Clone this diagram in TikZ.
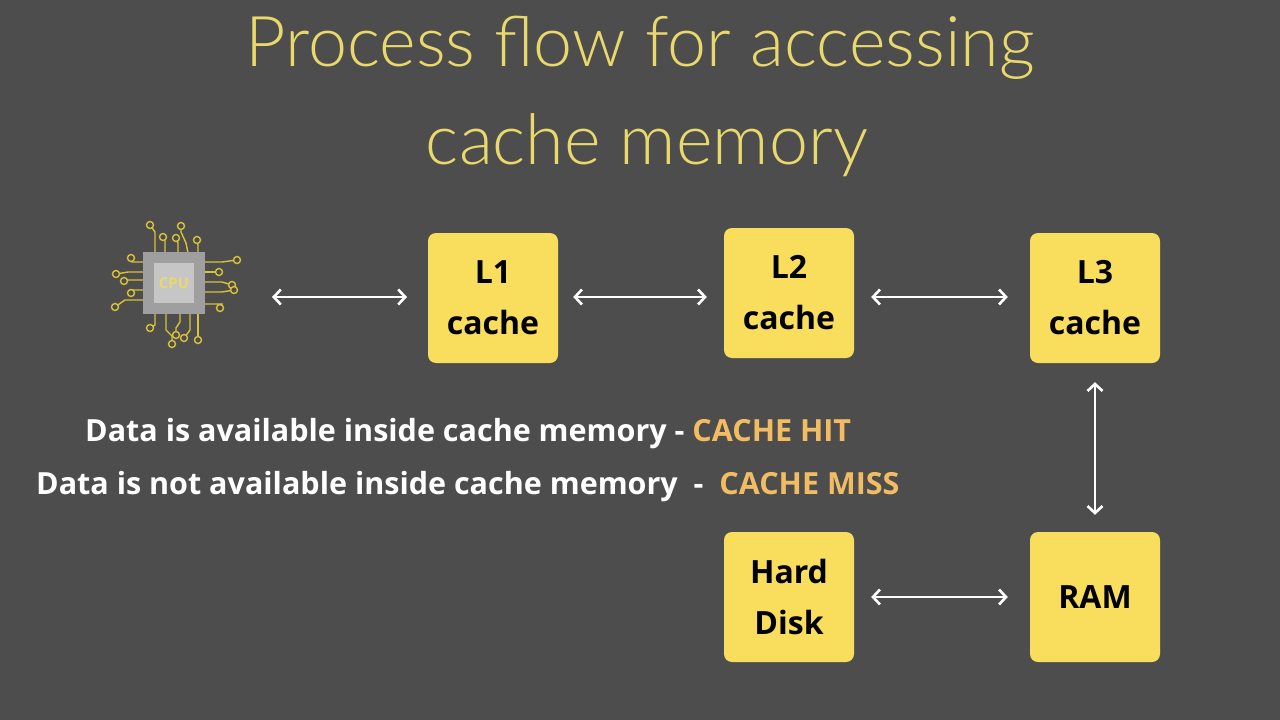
\documentclass[tikz,border=0pt]{standalone}
\usepackage{fontspec}
\setmainfont{Open Sans}
\newfontfamily\titlefont{Lato Light}
\usetikzlibrary{arrows.meta}
\definecolor{bg}{HTML}{4D4D4D}
\definecolor{boxy}{HTML}{F8DE5C}
\definecolor{ttl}{HTML}{E9D86C}
\definecolor{hit}{HTML}{F2BC62}
\definecolor{pinc}{HTML}{D9C23A}
\begin{document}
\begin{tikzpicture}[x=1pt,y=-1pt,
  box/.style={fill=boxy,rounded corners=8pt,minimum width=130pt,minimum height=130pt,inner sep=0pt,align=center,font=\fontsize{32}{51}\selectfont\bfseries,text=black},
  link/.style={white,line width=2.6pt,{Straight Barb[length=7pt,width=15pt]}-{Straight Barb[length=7pt,width=15pt]}},
  trace/.style={draw=pinc,line width=1.4pt},
  dot/.style={draw=pinc,line width=1.4pt,fill=bg}]
\fill[bg] (0,0) rectangle (1280,720);
\useasboundingbox (0,0) rectangle (1280,720);
\node[text=ttl,font=\titlefont\fontsize{70}{78}\selectfont] (t1) at (640,48) {Process flow for accessing};
\node[text=ttl,font=\titlefont\fontsize{70}{78}\selectfont] (t2) at (647,145) {cache memory};
% CPU
\draw[trace] (155,253)--(155,232)--(150,225);
\draw[trace] (165,253)--(165,238)--(163,237);
\draw[trace] (178,253)--(178,243)--(176,238);
\draw[trace] (188,253)--(186,243)--(181,232)--(181,226);
\draw[trace] (198,253)--(198,245)--(197,240);
\draw[trace] (155,313)--(155,325)--(150,328);
\draw[trace] (166,313)--(166,330)--(172,336)--(172,344);
\draw[trace] (180,313)--(180,322)--(176,328)--(176,335);
\draw[trace] (190,313)--(190,330)--(184,338);
\draw[trace] (198,313)--(198,340);
\draw[trace] (143,262)--(132,262)--(131,258);
\draw[trace] (143,272)--(128,272)--(116,274);
\draw[trace] (143,280)--(125,280)--(124,281);
\draw[trace] (143,290)--(130,290)--(131,293);
\draw[trace] (143,300)--(125,300)--(115,307);
\draw[trace] (205,262)--(222,262)--(237,260);
\draw[trace] (205,272)--(220,272)--(219,272);
\draw[trace] (205,282)--(222,282)--(232,285);
\draw[trace] (205,292)--(222,292)--(234,290);
\draw[trace] (205,304)--(222,304)--(220,308);
\foreach \p in {(150,225),(163,237),(176,238),(181,226),(197,240),(150,328),(172,344),(176,335),(184,338),(198,340),(131,258),(116,274),(124,281),(131,293),(115,307),(237,260),(219,272),(232,285),(234,290),(220,308)}
  \draw[dot] \p circle (3.5);
\node[fill=gray!75,minimum size=62pt,inner sep=0pt] (cpu) at (174,283) {};
\node[fill=gray!45,minimum size=40pt,inner sep=0pt,text=ttl,font=\fontsize{15}{17}\selectfont\bfseries] (cpuin) at (174,283) {CPU};
% boxes
\node[box] (l1) at (493,298) {L1\\cache};
\node[box] (l2) at (789,293) {L2\\cache};
\node[box] (l3) at (1095,298) {L3\\cache};
\node[box] (hd) at (789,597) {Hard\\Disk};
\node[box] (ram) at (1095,597) {RAM};
\coordinate (ca) at (272,297);
\coordinate (cb) at (407,297);
\draw[link] (ca)--(cb);
\draw[link] ([xshift=15pt]l1.east|-ca)--([xshift=-17pt]l2.west|-ca);
\draw[link] ([xshift=17pt]l2.east|-ca)--([xshift=-22pt]l3.west|-ca);
\draw[link] ([yshift=-19pt]l3.south)--([yshift=17pt]ram.north);
\draw[link] ([xshift=17pt]hd.east)--([xshift=-22pt]ram.west);
\node[anchor=base west,text=white,font=\fontsize{30.5}{33}\selectfont\bfseries,inner sep=0pt] (d1) at (85,441) {Data is available inside cache memory - \textcolor{hit}{CACHE HIT}};
\node[anchor=base west,text=white,font=\fontsize{30.5}{33}\selectfont\bfseries,inner sep=0pt] (d2) at (36,494) {Data is not available inside cache memory \ - \ \textcolor{hit}{CACHE MISS}};
\end{tikzpicture}
\end{document}
